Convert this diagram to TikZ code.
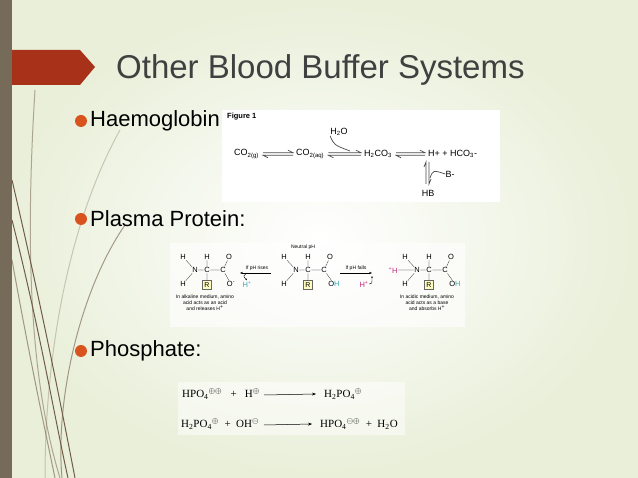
\documentclass[tikz,border=0pt]{standalone}
\usepackage{fontspec}
\setmainfont{Liberation Sans}
\newfontfamily\serifx{Liberation Serif}
\usetikzlibrary{arrows.meta}
\tikzset{x=1pt,y=-1pt,
 lbl/.style={inner sep=0pt,font=\fontsize{9}{10}\selectfont},
 bul/.style={anchor=west,inner sep=0pt,font=\fontsize{22}{24}\selectfont},
 eq/.style={draw=black!70,line width=0.7pt},
 curve/.style={draw=brown!40!black!80,line width=1pt},
 ch/.style={inner sep=0.5pt,font=\fontsize{7.5}{8}\selectfont},
 rbox/.style={draw=black!60,fill=yellow!25,inner sep=2pt,font=\fontsize{7}{8}\selectfont},
 small/.style={inner sep=0pt,font=\fontsize{5}{5.8}\selectfont,align=center},
 ph/.style={inner sep=0pt,font=\serifx\fontsize{11}{12}\selectfont,anchor=west}}
\newcommand{\sbx}[1]{\textsubscript{\fontsize{6}{6}\selectfont #1}}
\definecolor{bar}{HTML}{756B58}
\definecolor{banner}{HTML}{A8311A}
\definecolor{bg}{HTML}{E9EFD9}
\definecolor{dot}{HTML}{D9531E}
\definecolor{cyanH}{HTML}{3AA9B8}
\definecolor{magH}{HTML}{C8287A}
\begin{document}
\begin{tikzpicture}
\useasboundingbox (0,0) rectangle (638,478);
\shade[inner color=white,outer color=bg] (0,0) rectangle (638,478);
\draw[curve,draw opacity=0.5] (35,90) .. controls (25,250) and (30,380) .. (60,478);
\draw[curve] (12,180) .. controls (40,300) and (60,400) .. (75,478);
\draw[curve] (12,220) .. controls (40,330) and (55,420) .. (68,478);
\draw[curve,draw opacity=0.6] (125,225) .. controls (80,290) and (55,400) .. (62,478);
\draw[curve,draw opacity=0.3] (120,130) .. controls (70,220) and (45,350) .. (45,478);
\draw[curve,draw opacity=0.6] (12,260) .. controls (30,360) and (45,430) .. (55,478);
\fill[bar] (0,0) rectangle (12,478);
\fill[banner] (12,50) -- (80,50) -- (95,67) -- (80,85) -- (12,85) -- cycle;
\node[anchor=west,inner sep=0pt,text=black!75,font=\fontsize{33}{36}\selectfont] (title) at (116,70) {Other Blood Buffer Systems};
\foreach \y/\t/\n in {121/Haemoglobin/b1,219/{Plasma Protein:}/b2,351/{Phosphate:}/b3}{
 \fill[dot] (81,\y) circle (6);
 \node[bul] (\n) at (90,\y) {\t};
}
\node[fill=white,minimum width=278,minimum height=92,anchor=north west,inner sep=0pt] (f1) at (222,110) {};
\node[lbl,anchor=west,font=\bfseries\fontsize{7.5}{8}\selectfont] (fig) at (227,117) {Figure 1};
\node[lbl,anchor=west] (co2g) at (234,154) {CO\sbx{2(g)}};
\node[lbl,anchor=west] (co2aq) at (296,154) {CO\sbx{2(aq)}};
\node[lbl] (h2o) at (339,132) {H\sbx{2}O};
\node[lbl,anchor=west] (h2co3) at (364,154) {H\sbx{2}CO\sbx{3}};
\node[lbl,anchor=west] (hp) at (428,154) {H+ + HCO\sbx{3}-};
\node[lbl] (bm) at (450,174) {B-};
\node[lbl] (hb) at (428,193) {HB};
\foreach \a/\b in {co2g/co2aq,co2aq/h2co3,h2co3/hp}{
 \path (\a.east) ++(4,-1.3) coordinate (s) (\b.west) ++(-3,-1.3) coordinate (e);
 \draw[eq] (s) -- (e) -- ++(-5,-2.5);
 \path (\a.east) ++(4,1.3) coordinate (s2) (\b.west) ++(-3,1.3) coordinate (e2);
 \draw[eq] (e2) -- (s2) -- ++(5,2.5);
}
\draw[eq] (h2o.south west) .. controls (334,145) .. (350,151);
\draw[eq] (426,184) -- (426,162) -- ++(-2,5);
\draw[eq] (429,162) -- (429,184) -- ++(2,-5);
\draw[eq] (bm.west) .. controls (433,170) .. (430,178);
\node[fill=white,fill opacity=0.6,minimum width=295,minimum height=84,anchor=north west,inner sep=0pt] (f2) at (170,243) {};
\node[small] (neutral) at (303,247) {Neutral pH};
\begin{scope}[shift={(175,256)}]
\node[ch] (l1) at (8,1) {H}; \node[ch] (l2) at (20,14) {N}; \node[ch] (l3) at (8,28) {H};
\node[ch] (l4) at (32,1) {H}; \node[ch] (l5) at (32,14) {C}; \node[rbox] (l6) at (32,29) {R};
\node[ch] (l7) at (48,14) {C}; \node[ch] (l8) at (54,1) {O}; \node[ch] (l9) at (56,28) {O\textsuperscript{-}};
\draw[very thin] (l1)--(l2)--(l3) (l2)--(l5)--(l7) (l4)--(l5)--(l6) (l7)--(l8) (l7)--(l9);
\node[ch,text=cyanH] (lh) at (72,28) {H\textsuperscript{+}};
\node[small] (lt) at (30,47) {In alkaline medium, amino\\acid acts as an acid\\and releases H\textsuperscript{+}};
\end{scope}
\begin{scope}[shift={(276,256)}]
\node[ch] (m1) at (8,1) {H}; \node[ch] (m2) at (20,14) {N}; \node[ch] (m3) at (8,28) {H};
\node[ch] (m4) at (32,1) {H}; \node[ch] (m5) at (32,14) {C}; \node[rbox] (m6) at (32,29) {R};
\node[ch] (m7) at (48,14) {C}; \node[ch] (m8) at (54,1) {O}; \node[ch] (m9) at (58,28) {O\textcolor{cyanH}{H}};
\draw[very thin] (m1)--(m2)--(m3) (m2)--(m5)--(m7) (m4)--(m5)--(m6) (m7)--(m8) (m7)--(m9);
\end{scope}
\begin{scope}[shift={(397,256)}]
\node[ch,text=magH] (r0) at (-4,14) {\textsuperscript{+}H};
\node[ch] (r1) at (8,1) {H}; \node[ch] (r2) at (20,14) {N}; \node[ch] (r3) at (8,28) {H};
\node[ch] (r4) at (32,1) {H}; \node[ch] (r5) at (32,14) {C}; \node[rbox] (r6) at (32,29) {R};
\node[ch] (r7) at (48,14) {C}; \node[ch] (r8) at (54,1) {O}; \node[ch] (r9) at (58,28) {O\textcolor{cyanH}{H}};
\draw[very thin] (r0)--(r2) (r1)--(r2)--(r3) (r2)--(r5)--(r7) (r4)--(r5)--(r6) (r7)--(r8) (r7)--(r9);
\node[small] (rt) at (30,47) {In acidic medium, amino\\acid acts as a base\\and absorbs H\textsuperscript{+}};
\end{scope}
\node[small] (rise) at (257,268) {If pH rises};
\coordinate (ra) at (271,273); \coordinate (rb) at (240,273);
\draw[-{Stealth[length=3pt]},thin] (ra) -- (rb);
\draw[-{Stealth[length=2pt]},thin] (247,273) .. controls (243,276) .. (lh.north);
\node[small] (fall) at (356,268) {If pH falls};
\coordinate (fa) at (340,273); \coordinate (fb) at (372,273);
\draw[-{Stealth[length=3pt]},thin] (fa) -- (fb);
\node[ch,text=magH] (mh) at (364,284) {H\textsuperscript{+}};
\draw[-{Stealth[length=2pt]},thin] (mh.east) .. controls (372,284) .. (372,276);
\node[fill=white,fill opacity=0.5,minimum width=227,minimum height=53,anchor=north west,inner sep=0pt] (f3) at (178,382) {};
\node[ph] (p1) at (182,394) {HPO\textsubscript{4}\textsuperscript{$\oplus\oplus$} \ \ + \ \ H\textsuperscript{$\oplus$}};
\node[ph] (p2) at (324,394) {H\textsubscript{2}PO\textsubscript{4}\textsuperscript{$\oplus$}};
\node[ph] (p3) at (181,424) {H\textsubscript{2}PO\textsubscript{4}\textsuperscript{$\oplus$} \ + \ OH\textsuperscript{$\ominus$}};
\node[ph] (p4) at (320,424) {HPO\textsubscript{4}\textsuperscript{$\ominus\oplus$} \ + \ H\textsubscript{2}O};
\draw[-{Stealth[length=4pt]},line width=0.5pt] (264,395) -- ([xshift=-8]p2.west);
\draw[-{Stealth[length=4pt]},line width=0.5pt] (264,425) -- ([xshift=-8]p4.west);
\end{tikzpicture}
\end{document}
